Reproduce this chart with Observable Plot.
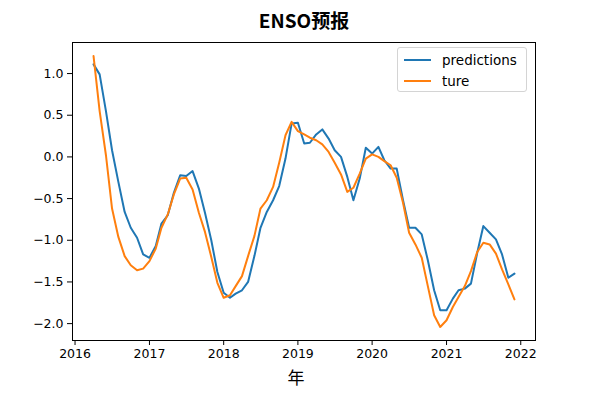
<!DOCTYPE html>
<html><head><meta charset="utf-8">
<script src="https://cdn.jsdelivr.net/npm/d3@7"></script>
<script src="https://cdn.jsdelivr.net/npm/@observablehq/plot@0.6"></script>
<style>
body{margin:0;background:#fff;}
#wrap{position:relative;width:593px;height:398px;}
#legend{position:absolute;left:397px;top:47px;width:130px;height:45px;box-sizing:border-box;border:1px solid #d4d4d4;border-radius:3px;background:rgba(255,255,255,0.85);font-family:"DejaVu Sans",sans-serif;font-size:13.5px;color:#000;}
.row{position:absolute;left:6px;height:16px;display:flex;align-items:center;}
.row svg{margin-right:11px;}
</style></head>
<body><div id="wrap"></div>
<script>
const seriesNames = ["predictions", "ture"];
const seriesColors = ["#1f77b4", "#ff7f0e"];
const firstMonth = "2016-04-01";
const lastMonthExclusive = "2022-01-01";
const predictions = [1.11,0.99,0.55,0.08,-0.30,-0.66,-0.85,-0.97,-1.17,-1.21,
  -1.07,-0.80,-0.70,-0.43,-0.22,-0.23,-0.17,-0.38,-0.67,-1.00,
  -1.38,-1.63,-1.69,-1.64,-1.60,-1.50,-1.19,-0.85,-0.66,-0.52,
  -0.35,-0.02,0.40,0.41,0.16,0.17,0.27,0.33,0.22,0.08,
  0.00,-0.24,-0.52,-0.26,0.11,0.04,0.12,-0.04,-0.14,-0.14,
  -0.52,-0.85,-0.85,-0.93,-1.24,-1.60,-1.84,-1.84,-1.70,-1.60,
  -1.58,-1.52,-1.15,-0.83,-0.91,-0.99,-1.17,-1.45,-1.40];
const ture = [1.21,0.55,0.02,-0.62,-0.96,-1.19,-1.30,-1.36,-1.34,-1.25,
  -1.10,-0.85,-0.69,-0.45,-0.26,-0.25,-0.39,-0.67,-0.90,-1.20,
  -1.51,-1.69,-1.66,-1.55,-1.43,-1.19,-0.95,-0.62,-0.52,-0.36,
  -0.07,0.26,0.42,0.31,0.27,0.23,0.20,0.15,0.06,-0.07,
  -0.21,-0.42,-0.37,-0.20,-0.02,0.03,0.00,-0.05,-0.10,-0.25,
  -0.55,-0.91,-1.05,-1.21,-1.55,-1.90,-2.04,-1.96,-1.80,-1.68,
  -1.55,-1.37,-1.14,-1.03,-1.05,-1.16,-1.35,-1.53,-1.71];
const yTicks = [-2.0,-1.5,-1.0,-0.5,0.0,0.5,1.0];
const xTickYears = ["2016","2017","2018","2019","2020","2021","2022"];
const titleText = "ENSO预报";
const xLabel = "年";

const months = d3.utcMonth.range(new Date(firstMonth), new Date(lastMonthExclusive));
const predData = months.map((d, i) => ({date: d, value: predictions[i]}));
const trueData = months.map((d, i) => ({date: d, value: ture[i]}));
const [a, b] = d3.extent(months);
const padX = (b - a) * 0.05;
const allVals = predictions.concat(ture);
const [ymin, ymax] = d3.extent(allVals);
const padY = (ymax - ymin) * 0.05;

const chart = Plot.plot({
  width: 593, height: 398,
  marginTop: 42, marginBottom: 58, marginLeft: 72, marginRight: 58,
  style: {fontFamily: "DejaVu Sans, sans-serif", fontSize: "12.5px", color: "#000", background: "#fff"},
  x: {type: "utc", domain: [new Date(+a - padX), new Date(+b + padX)]},
  y: {domain: [ymin - padY, ymax + padY]},
  marks: [
    Plot.axisX(xTickYears.map(y => new Date(y + "-01-01")), {tickFormat: d3.utcFormat("%Y"), tickSize: 5, tickPadding: 4, label: null, fontSize: 12.5, stroke: "#000"}),
    Plot.axisY(yTicks, {tickFormat: d3.format(".1f"), tickSize: 5, tickPadding: 4, label: null, fontSize: 12.5, stroke: "#000"}),
    Plot.line(predData, {x: "date", y: "value", stroke: seriesColors[0], strokeWidth: 2}),
    Plot.line(trueData, {x: "date", y: "value", stroke: seriesColors[1], strokeWidth: 2}),
    Plot.frame({stroke: "#000", strokeWidth: 1}),
    Plot.text([titleText], {frameAnchor: "top", dy: -28, fontSize: 19, fontWeight: 600, fontFamily: "Noto Sans CJK SC", fill: "#000"}),
    Plot.text([xLabel], {frameAnchor: "bottom", dy: 43, dx: -8, fontSize: 17, fontFamily: "Noto Sans CJK SC", fill: "#000"})
  ]
});
const wrap = document.getElementById("wrap");
wrap.appendChild(chart);

const legend = document.createElement("div");
legend.id = "legend";
seriesNames.forEach((name, i) => {
  const row = document.createElement("div");
  row.className = "row";
  row.style.top = (4 + i * 21) + "px";
  row.innerHTML = `<svg width="27" height="4"><line x1="0" y1="2" x2="27" y2="2" stroke="${seriesColors[i]}" stroke-width="2"/></svg><span>${name}</span>`;
  legend.appendChild(row);
});
wrap.appendChild(legend);
</script></body></html>
